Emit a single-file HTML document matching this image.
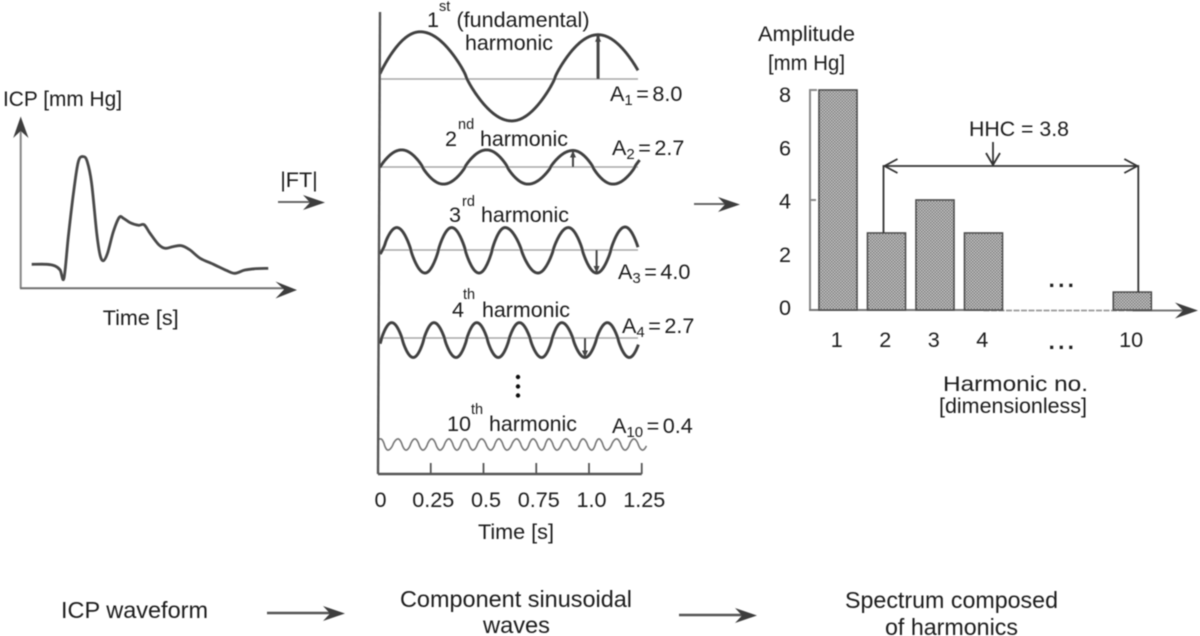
<!DOCTYPE html>
<html lang="en">
<head>
<meta charset="utf-8">
<title>ICP waveform harmonic decomposition</title>
<style>
html,body{margin:0;padding:0;background:#fff;}
svg{display:block;}
text{font-family:"Liberation Sans",Arial,sans-serif;fill:#1c1c1c;font-size:21.6px;}
.sup{font-size:14.5px;}
.sub{font-size:15px;}
.mid{text-anchor:middle;}
.amp{word-spacing:-2.5px;}
.flow{font-size:23.5px;}
</style>
</head>
<body>
<svg xmlns="http://www.w3.org/2000/svg" width="1200" height="636" viewBox="0 0 1200 636">
<defs>
<filter id="soft" x="-2%" y="-2%" width="104%" height="104%"><feGaussianBlur stdDeviation="0.4"/></filter>
<pattern id="stipple" width="3" height="3" patternUnits="userSpaceOnUse">
<rect width="3" height="3" fill="#c2c2c2"/>
<rect width="1.5" height="1.5" fill="#777"/>
<rect x="1.5" y="1.5" width="1.5" height="1.5" fill="#777"/>
</pattern>
</defs>
<rect width="1200" height="636" fill="#fff"/>
<g id="root" filter="url(#soft)">

<!-- Left panel -->
<g>
<text x="3" y="106" textLength="119" lengthAdjust="spacingAndGlyphs">ICP [mm Hg]</text>
<line x1="20.7" y1="125" x2="20.7" y2="288.3" stroke="#858585" stroke-width="2"/>
<polygon points="20.7,116.5 28.5,138 20.7,131 13.2,138" fill="#3c3c3c"/>
<line x1="20" y1="288.3" x2="288" y2="288.3" stroke="#6e6e6e" stroke-width="2"/>
<polygon points="297,290 275.5,298.5 284,289.5 275.5,281.5" fill="#3c3c3c"/>
<text class="mid" x="140.7" y="325">Time [s]</text>
</g>

<!-- |FT| arrow -->
<text class="mid" x="299" y="187">|FT|</text>
<g>
<line x1="278" y1="202" x2="316" y2="202" stroke="#666" stroke-width="2"/>
<polygon points="325,202.5 303,210 310,202.5 303,195" fill="#3c3c3c"/>
</g>
<g>
<line x1="694" y1="204" x2="730" y2="204" stroke="#666" stroke-width="2"/>
<polygon points="740,204.5 718,212 725,204.5 718,197" fill="#3c3c3c"/>
</g>

<!-- Middle panel labels -->
<g>
<text x="427" y="27">1</text>
<text class="sup" x="439" y="11">st</text>
<text x="456.5" y="27" textLength="133" lengthAdjust="spacingAndGlyphs">(fundamental)</text>
<text x="465" y="50" textLength="88" lengthAdjust="spacingAndGlyphs">harmonic</text>
<text class="amp" x="610" y="101">A<tspan class="sub" dy="4">1</tspan><tspan dy="-4"> = 8.0</tspan></text>

<text x="445" y="146">2</text>
<text class="sup" x="458" y="129">nd</text>
<text x="480" y="146" textLength="88" lengthAdjust="spacingAndGlyphs">harmonic</text>
<text class="amp" x="612" y="155">A<tspan class="sub" dy="4">2</tspan><tspan dy="-4"> = 2.7</tspan></text>

<text x="449" y="222">3</text>
<text class="sup" x="462" y="206">rd</text>
<text x="481" y="222" textLength="88" lengthAdjust="spacingAndGlyphs">harmonic</text>
<text class="amp" x="618" y="279">A<tspan class="sub" dy="4">3</tspan><tspan dy="-4"> = 4.0</tspan></text>

<text x="452" y="317">4</text>
<text class="sup" x="463" y="299">th</text>
<text x="482" y="317" textLength="88" lengthAdjust="spacingAndGlyphs">harmonic</text>
<text class="amp" x="622" y="333">A<tspan class="sub" dy="4">4</tspan><tspan dy="-4"> = 2.7</tspan></text>

<g fill="#111">
<circle cx="518" cy="377" r="2.2"/><circle cx="518" cy="386.5" r="2.2"/><circle cx="518" cy="395.5" r="2.2"/>
</g>

<text x="447" y="431">10</text>
<text class="sup" x="471" y="414">th</text>
<text x="489" y="431" textLength="88" lengthAdjust="spacingAndGlyphs">harmonic</text>
<text class="amp" x="612" y="433">A<tspan class="sub" dy="4">10</tspan><tspan dy="-4"> = 0.4</tspan></text>

<text class="mid" x="516" y="539">Time [s]</text>
</g>

<!-- Right panel static labels -->
<g>
<text x="758" y="41" textLength="97" lengthAdjust="spacingAndGlyphs">Amplitude</text>
<text x="768" y="70" textLength="77" lengthAdjust="spacingAndGlyphs">[mm Hg]</text>
<text x="969" y="136" textLength="100" lengthAdjust="spacingAndGlyphs">HHC = 3.8</text>
<text x="943" y="391" textLength="145" lengthAdjust="spacingAndGlyphs">Harmonic no.</text>
<text x="939" y="413" textLength="148" lengthAdjust="spacingAndGlyphs">[dimensionless]</text>
<text class="mid" x="1063" y="287" letter-spacing="3.5" style="font-size:22px;font-weight:bold">...</text>
</g>

<!-- Bottom flow row -->
<g>
<text class="flow" x="61" y="618" textLength="147" lengthAdjust="spacingAndGlyphs">ICP waveform</text>
<g>
<line x1="267" y1="613" x2="335" y2="613" stroke="#555" stroke-width="2.5"/>
<polygon points="345,613.5 323,621 330,613.5 323,606" fill="#3c3c3c"/>
</g>
<text class="flow" x="400" y="607" textLength="232" lengthAdjust="spacingAndGlyphs">Component sinusoidal</text>
<text class="flow" x="483" y="633" textLength="67" lengthAdjust="spacingAndGlyphs">waves</text>
<g>
<line x1="679" y1="615" x2="747" y2="615" stroke="#555" stroke-width="2.5"/>
<polygon points="757,615.5 735,623 742,615.5 735,608" fill="#3c3c3c"/>
</g>
<text class="flow" x="845" y="608" textLength="213" lengthAdjust="spacingAndGlyphs">Spectrum composed</text>
<text class="flow" x="885" y="635" textLength="133" lengthAdjust="spacingAndGlyphs">of harmonics</text>
</g>

<g id="plots"></g>
</g>
</svg>
<script>
// ---------- ICP waveform (normalised time, relative pressure) ----------
const icpTimes = [.043,.102,.134,.154,.169,.186,.206,.225,.245,.26,.277,.297,.31,.323,.339,.362,.385,.401,.427,.46,.482,.505,.538,.564,.596,.629,.661,.701,.753,.805,.837,.876,.922,.967];
const icpValues = [16,16,14.9,12.2,6.7,34.4,63.3,84.4,87.8,84.4,70,36.7,22.2,18.4,23.3,37.8,47.3,46.7,43.8,42,42.4,36.7,29.3,26.7,27.8,28.4,25.6,20,16,11.8,10,12.2,13.1,13.3];

// ---------- Component waves: crest / trough times (s) and displacement (mm Hg) ----------
const harmonic1Times = [-.2,.2,.634,1.043,1.46];
const harmonic1Values = [-8,8,-7.1,7.5,-7.5];
const harmonic2Times = [-.09,.112,.31,.515,.711,.924,1.114,1.32];
const harmonic2Values = [-2.9,2.9,-2.9,2.9,-2.9,2.8,-2.9,2.9];
const harmonic3Times = [-.02,.089,.223,.349,.479,.602,.758,.902,1.036,1.171,1.3];
const harmonic3Values = [-1.5,3.8,-3.9,3.8,-3.9,3.8,-3.9,3.8,-3.9,3.9,-3.9];
const harmonic4Times = [-.035,.065,.167,.265,.37,.468,.57,.67,.776,.871,.981,1.087,1.191,1.29];
const harmonic4Values = [-3.3,2.6,-3.3,2.6,-3.3,2.6,-3.3,2.6,-3.3,2.6,-3.3,2.6,-3.3,2.6];
const harmonic10Times = [.013,.047,.095,.133,.175,.213,.255,.294,.336,.374,.412,.45,.491,.534,.573,.611,.657,.697,.735,.776,.81,.848,.891,.934,.972,1.013,1.047,1.084,1.131,1.171,1.213,1.254,1.295];
const harmonic10Values = [.95,-.95,.95,-.95,.95,-.95,.95,-.95,.95,-.95,.95,-.95,.95,-.95,.95,-.95,.95,-.95,.95,-.95,.95,-.95,.95,-.95,.95,-.95,.95,-.95,.95,-.95,.95,-.95,.95];
const markerTimes = [1.043,.924,1.036,.981];
const timeTicks = [0,.25,.5,.75,1,1.25];
const timeTickLabels = ["0","0.25","0.5","0.75","1.0","1.25"];

// ---------- Spectrum ----------
const harmonicNumbers = [1,2,3,4,10];
const harmonicLabels = ["1","2","3","4","10"];
const amplitudeValues = [8,2.8,4,2.8,.65];
const amplitudeTicks = [0,2,4,6,8];

// ---------- Scales ----------
const NS = "http://www.w3.org/2000/svg";
const plots = document.getElementById("plots");
function make(tag, attrs, parent){
  const el = document.createElementNS(NS, tag);
  for (const k in attrs) el.setAttribute(k, attrs[k]);
  (parent || plots).appendChild(el);
  return el;
}
const icpX = t => 20.7 + t * 256;
const icpY = v => 288.3 - v * 1.5;
const timeX = t => 378 + t * 211;
const waveDy = v => -v * 5.9;
const ampY = v => 310 - v * 27.5;
const ampLabelY = v => 315 - v * 26.6;
const harmX = h => h <= 4 ? 838 + 48.5 * (h - 1) : 983.5 + (h - 4) * 24.8;

// ---------- ICP curve ----------
(function(){
  const pts = icpTimes.map((t, i) => [icpX(t), icpY(icpValues[i])]);
  let d = "M" + pts[0][0] + " " + pts[0][1];
  for (let i = 0; i < pts.length - 1; i++){
    const p0 = pts[Math.max(i - 1, 0)], p1 = pts[i], p2 = pts[i + 1], p3 = pts[Math.min(i + 2, pts.length - 1)];
    d += " C" + (p1[0] + (p2[0] - p0[0]) / 6) + " " + (p1[1] + (p2[1] - p0[1]) / 6) + " " +
         (p2[0] - (p3[0] - p1[0]) / 6) + " " + (p2[1] - (p3[1] - p1[1]) / 6) + " " + p2[0] + " " + p2[1];
  }
  const curve = make("path", {d: d, fill: "none", stroke: "#484848", "stroke-width": 2.8, "stroke-linejoin": "round"});
  
  
})();

// ---------- Component waves ----------
function waveAt(times, values, t){
  let i = 0;
  while (i < times.length - 2 && t > times[i + 1]) i++;
  const f = Math.min(1, Math.max(0, (t - times[i]) / (times[i + 1] - times[i])));
  const a = values[i], b = values[i + 1];
  const c = Math.cos(Math.PI * f);
  const shaped = Math.sign(c) * Math.pow(Math.abs(c), 0.85);
  return (a + b) / 2 + (a - b) / 2 * shaped;
}
function drawWave(times, values, tStart, tEnd, baseY, color, width, name){
  const pts = [];
  for (let t = tStart; t <= tEnd + 1e-6; t += .002){
    pts.push(timeX(t).toFixed(2) + " " + (baseY + waveDy(waveAt(times, values, t))).toFixed(2));
  }
  const line = make("path", {d: "M" + pts.join(" L"), fill: "none", stroke: color, "stroke-width": width, "stroke-linejoin": "round"});
  
  
}
function drawBaseline(baseY, name){
  const line = make("line", {x1: 380, x2: 638, y1: baseY, y2: baseY, stroke: "#a8a8a8", "stroke-width": 1.5});
  
  
}
function drawMarker(times, values, t, baseY, width, name){
  const x = timeX(t), yEnd = baseY + waveDy(waveAt(times, values, t));
  const dir = yEnd < baseY ? 1 : -1;
  const g = make("g", {});
  
  
  make("line", {x1: x, x2: x, y1: baseY, y2: yEnd, stroke: "#444", "stroke-width": width}, g);
  make("polygon", {points: x + "," + yEnd + " " + (x - 3) + "," + (yEnd + dir * 7) + " " + (x + 3) + "," + (yEnd + dir * 7), fill: "#444"}, g);
}
drawBaseline(79, "harmonic-1-baseline");
drawBaseline(167, "harmonic-2-baseline");
drawBaseline(250, "harmonic-3-baseline");
drawBaseline(338, "harmonic-4-baseline");
drawWave(harmonic1Times, harmonic1Values, .01, 1.232, 79, "#3f3f3f", 2.9, "harmonic-1-wave");
drawWave(harmonic2Times, harmonic2Values, .01, 1.24, 167, "#3f3f3f", 2.9, "harmonic-2-wave");
drawWave(harmonic3Times, harmonic3Values, .01, 1.232, 250, "#3f3f3f", 2.9, "harmonic-3-wave");
drawWave(harmonic4Times, harmonic4Values, .01, 1.234, 338, "#3f3f3f", 2.9, "harmonic-4-wave");
drawWave(harmonic10Times, harmonic10Values, 0, 1.273, 444.5, "#747474", 1.6, "harmonic-10-wave");
drawMarker(harmonic1Times, harmonic1Values, markerTimes[0], 79, 3, "harmonic-1-amplitude-marker");
drawMarker(harmonic2Times, harmonic2Values, markerTimes[1], 167, 2, "harmonic-2-amplitude-marker");
drawMarker(harmonic3Times, harmonic3Values, markerTimes[2], 250, 2, "harmonic-3-amplitude-marker");
drawMarker(harmonic4Times, harmonic4Values, markerTimes[3], 338, 2, "harmonic-4-amplitude-marker");

// Time axis
const timeAxisV = make("line", {x1: 380, y1: 12, x2: 378, y2: 474, stroke: "#555", "stroke-width": 2.4});


const timeAxisH = make("line", {x1: timeX(0), y1: 474, x2: timeX(1.25), y2: 474, stroke: "#555", "stroke-width": 2.4});


timeTicks.forEach((t, i) => {
  const tick = make("line", {x1: timeX(t), x2: timeX(t), y1: 463, y2: 474, stroke: "#555", "stroke-width": 1.8});
  
  
  const label = make("text", {x: timeX(t) + 2.5, y: 507, "text-anchor": "middle"});
  
  
  label.textContent = timeTickLabels[i];
});

// ---------- Spectrum bars ----------
const ampAxis = make("path", {d: "M817 " + ampY(8) + " H810 V" + ampY(0) + " M810 " + ampY(4) + " H816", fill: "none", stroke: "#8a8a8a", "stroke-width": 2});


const freqAxisA = make("line", {x1: 809, x2: harmX(4), y1: ampY(0), y2: ampY(0), stroke: "#777", "stroke-width": 2});


const freqAxisGap = make("line", {x1: harmX(4), x2: harmX(10), y1: ampY(0) + .5, y2: ampY(0) + .5, stroke: "#999", "stroke-width": 1.8, "stroke-dasharray": "6 1.5"});


const freqAxisB = make("line", {x1: harmX(10), x2: 1188, y1: ampY(0) + .5, y2: ampY(0) + .5, stroke: "#777", "stroke-width": 2});


const freqHead = make("polygon", {points: "1198,310.5 1175,318.5 1183,310.5 1175,302.5", fill: "#3c3c3c"});



amplitudeTicks.forEach(v => {
  const label = make("text", {x: 785, y: ampLabelY(v), "text-anchor": "middle"});
  
  
  label.textContent = String(v);
});
harmonicNumbers.forEach((h, i) => {
  const bar = make("rect", {x: harmX(h) - 19, y: ampY(amplitudeValues[i]), width: 38, height: ampY(0) - ampY(amplitudeValues[i]), fill: "url(#stipple)", stroke: "#4a4a4a", "stroke-width": 1.6});
  
  
  const label = make("text", {x: harmX(h) - 1.2, y: 347, "text-anchor": "middle"});
  
  
  label.textContent = harmonicLabels[i];
});
const axisEllipsis = make("text", {x: 1063, y: 349, "text-anchor": "middle", "letter-spacing": 3.5, style: "font-size:22px;font-weight:bold"});


axisEllipsis.textContent = "...";

// HHC bracket, anchored to the tops of bars 2 and 10
const hhcY = 166;
const bracketLeftX = harmX(2) - 3, bracketRightX = harmX(10) + 6;
const hhc = make("g", {fill: "none", stroke: "#333", "stroke-width": 1.8});


make("path", {d: "M" + bracketLeftX + " " + ampY(amplitudeValues[1]) + " V" + hhcY + " H" + bracketRightX + " V" + ampY(amplitudeValues[4])}, hhc);
make("path", {d: "M" + (bracketLeftX + 14) + " " + (hhcY - 7) + " L" + (bracketLeftX + 1) + " " + hhcY + " L" + (bracketLeftX + 14) + " " + (hhcY + 7)}, hhc);
make("path", {d: "M" + (bracketRightX - 14) + " " + (hhcY - 7) + " L" + (bracketRightX - 1) + " " + hhcY + " L" + (bracketRightX - 14) + " " + (hhcY + 7)}, hhc);
const hhcArrow = make("path", {d: "M993 142 V165 M986 153 L993 165 L1000 153", fill: "none", stroke: "#333", "stroke-width": 1.8});


</script>
</body>
</html>
